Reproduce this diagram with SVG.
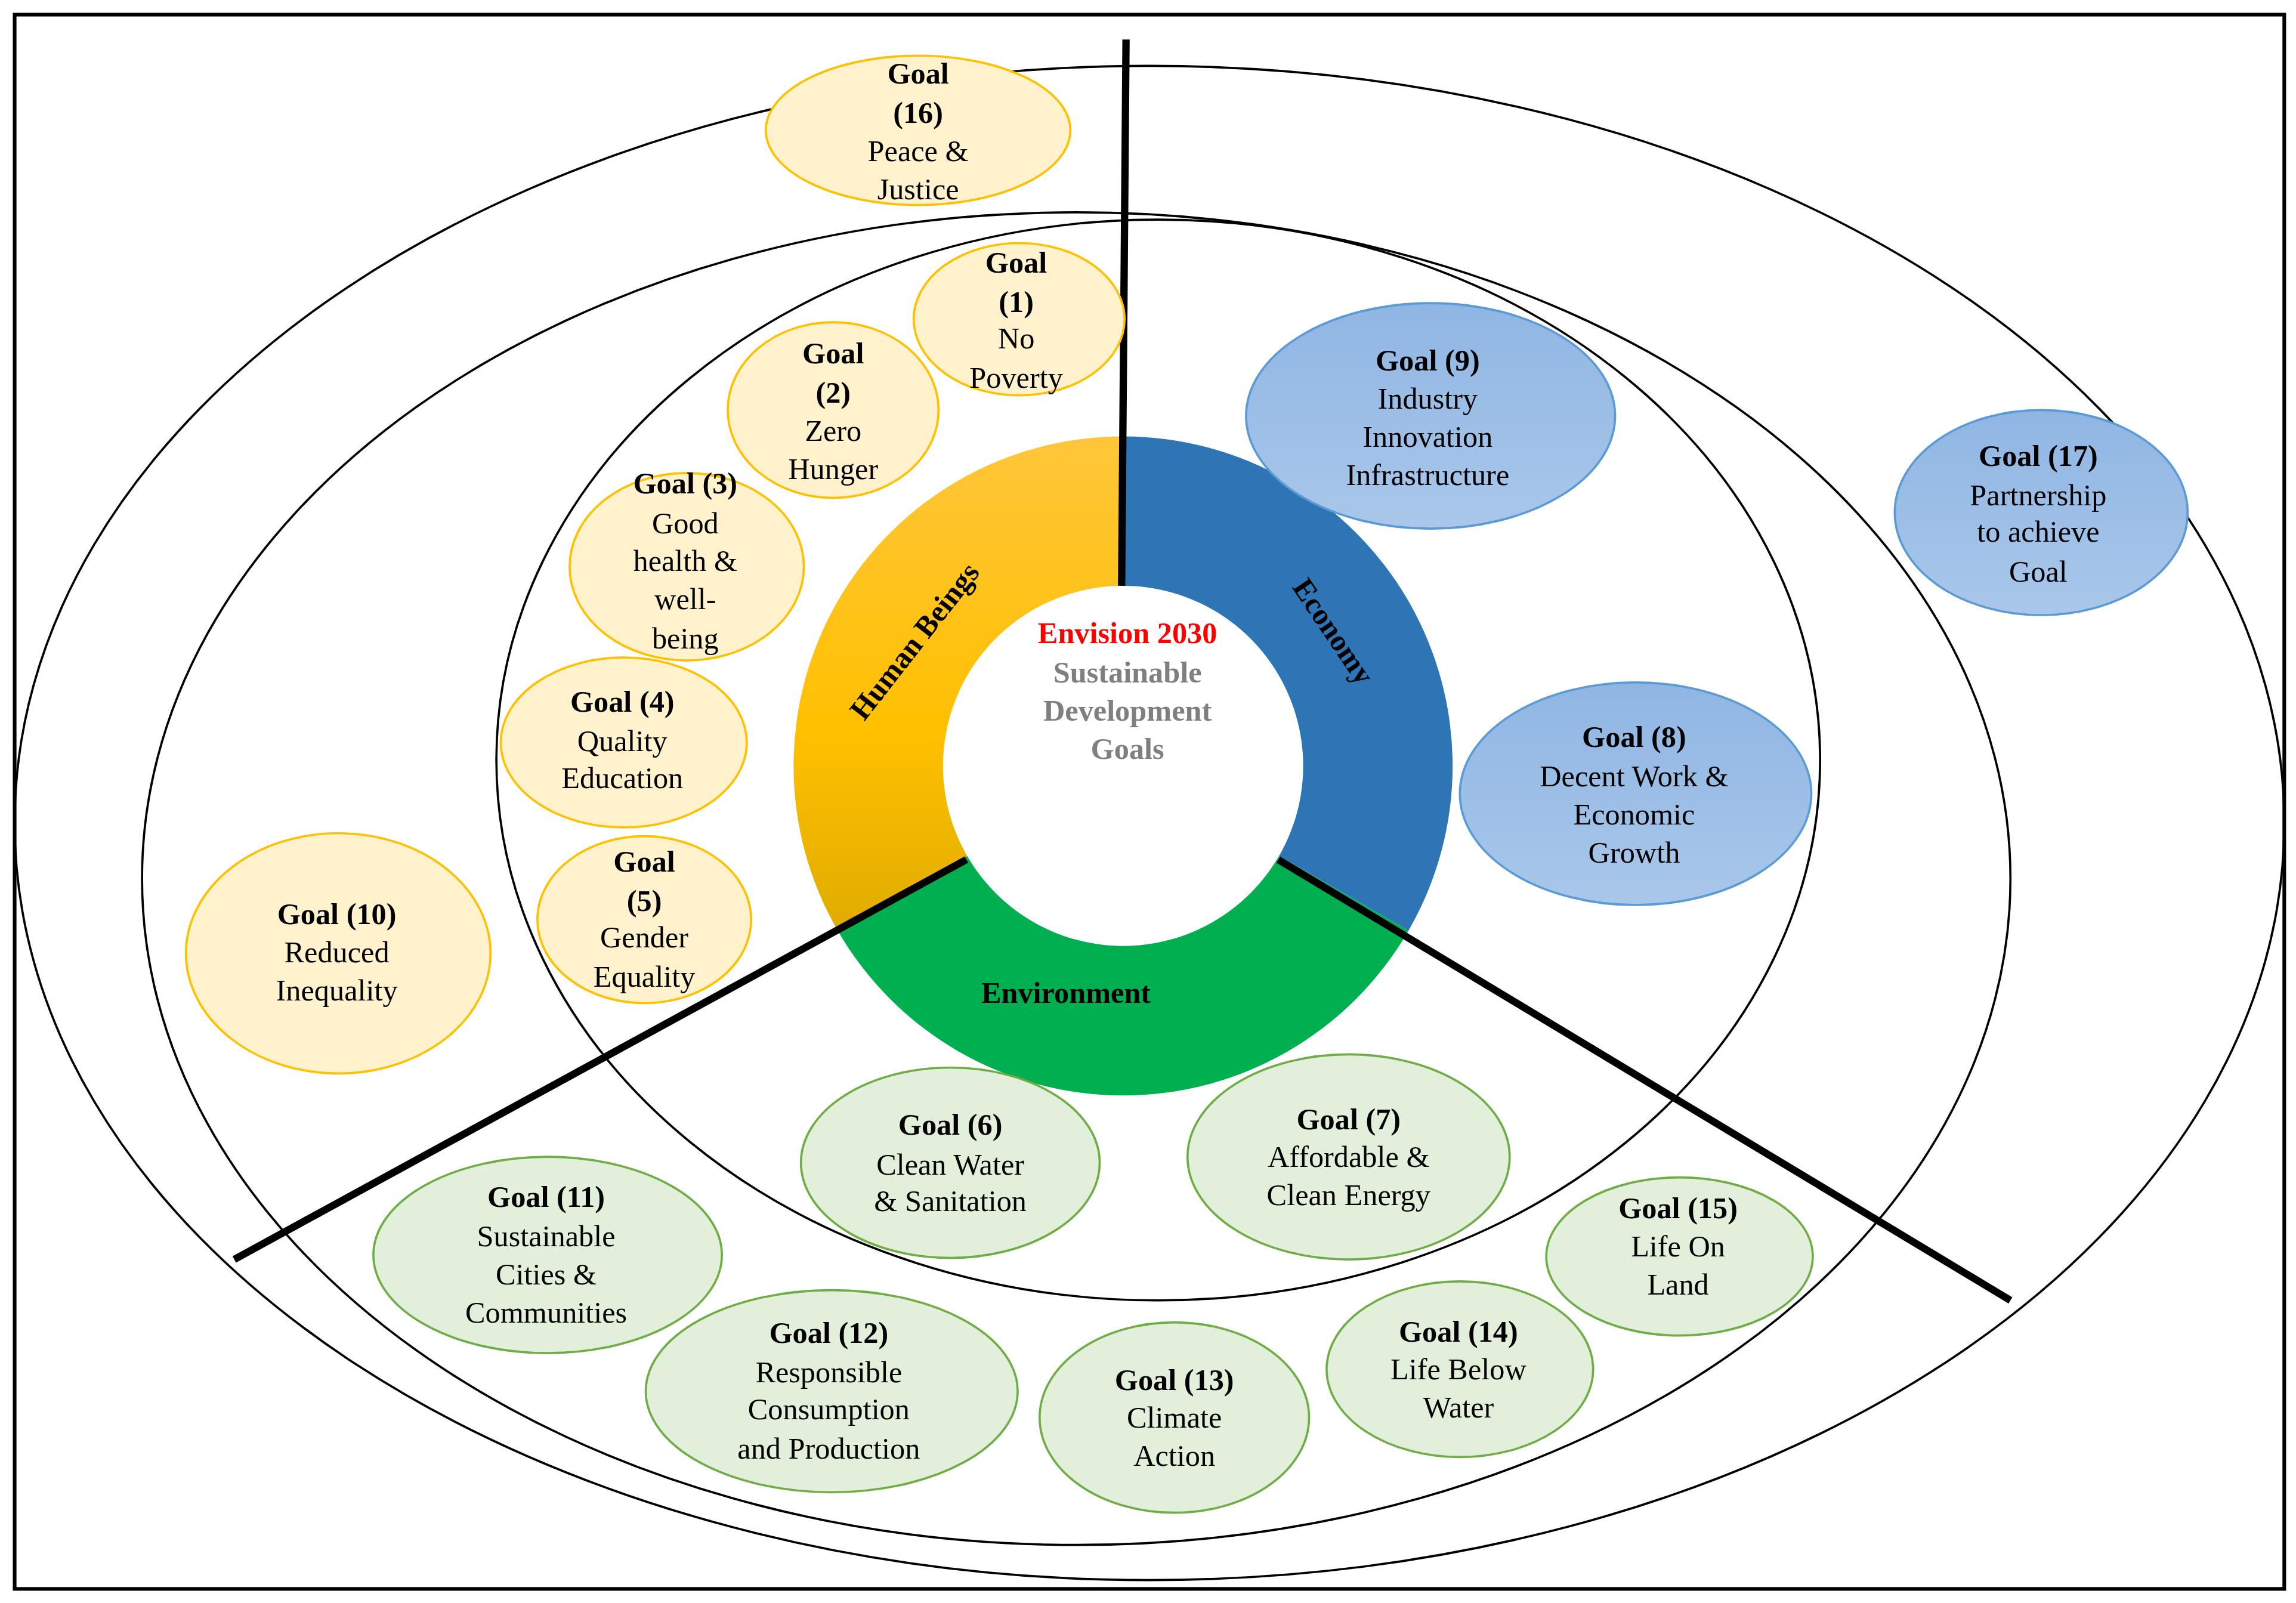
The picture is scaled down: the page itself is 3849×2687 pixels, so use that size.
<svg xmlns="http://www.w3.org/2000/svg" width="3849" height="2687" viewBox="0 0 3849 2687">
<defs>
<style>
text{font-family:'Liberation Serif',serif}
.t{font-size:20.5px;text-anchor:middle;fill:#000}
.b{font-weight:bold}
.ring{fill:none;stroke:#000;stroke-width:1.5}
.y{fill:#FFF2CC;stroke:#FFC000;stroke-width:1.5}
.bl{fill:url(#gb);stroke:#5B9BD5;stroke-width:1.5}
.g{fill:#E2EFDA;stroke:#70AD47;stroke-width:1.5}
.sep{stroke:#000;stroke-width:5;fill:none}
</style>
<linearGradient id="gb" x1="0" y1="0" x2="0" y2="1"><stop offset="0" stop-color="#8FB6E3"/><stop offset="1" stop-color="#A9C7EA"/></linearGradient>
<linearGradient id="go" x1="0" y1="0" x2="0" y2="1"><stop offset="0" stop-color="#FFC63A"/><stop offset="0.6" stop-color="#FFC000"/><stop offset="1" stop-color="#E0AC00"/></linearGradient>
</defs>
<rect width="3849" height="2687" fill="#fff"/>
<g transform="scale(2.4547)" font-family="Liberation Serif, serif">
<rect x="10" y="10" width="1550" height="1075" fill="none" stroke="#000" stroke-width="2.5"/>
<g id="rings">
<ellipse class="ring" cx="785" cy="562" rx="775" ry="517"/>
<ellipse class="ring" cx="735" cy="600" rx="638" ry="455"/>
<ellipse class="ring" cx="791" cy="519" rx="452" ry="369"/>
</g>
<g id="donut">
<path d="M767 298 A225 225 0 0 0 572.1 635.5 L660.5 584.5 A123 123 0 0 1 767 400 Z" fill="url(#go)"/>
<path d="M767 298 A225 225 0 0 1 961.9 635.5 L873.5 584.5 A123 123 0 0 0 767 400 Z" fill="#2E75B6"/>
<path d="M961.9 635.5 A225 225 0 0 1 572.1 635.5 L660.5 584.5 A123 123 0 0 0 873.5 584.5 Z" fill="#00B050"/>
<text class="t b" transform="translate(630 442) rotate(-52)">Human Beings</text>
<text class="t b" transform="translate(905 435) rotate(56)">Economy</text>
<text class="t b" x="728" y="685">Environment</text>
<text class="t b" x="770" y="439" style="fill:#FF0000">Envision 2030</text>
<text class="t b" x="770" y="466" style="fill:#7F7F7F">Sustainable</text>
<text class="t b" x="770" y="492" style="fill:#7F7F7F">Development</text>
<text class="t b" x="770" y="518" style="fill:#7F7F7F">Goals</text>
</g>
<g id="connectors">
<line class="sep" x1="769" y1="27" x2="766" y2="400"/>
<line class="sep" x1="660" y1="587" x2="160" y2="860"/>
<line class="sep" x1="873" y1="587" x2="1373" y2="888"/>
</g>
<g id="g16"><ellipse class="y" cx="627" cy="89" rx="104" ry="51"/><text class="t b" x="627" y="57">Goal</text><text class="t b" x="627" y="84">(16)</text><text class="t" x="627" y="110">Peace &amp;</text><text class="t" x="627" y="136">Justice</text></g>
<g id="g1"><ellipse class="y" cx="696" cy="218" rx="72" ry="52"/><text class="t b" x="694" y="186">Goal</text><text class="t b" x="694" y="213">(1)</text><text class="t" x="694" y="238">No</text><text class="t" x="694" y="265">Poverty</text></g>
<g id="g2"><ellipse class="y" cx="569" cy="280" rx="72" ry="60"/><text class="t b" x="569" y="248">Goal</text><text class="t b" x="569" y="275">(2)</text><text class="t" x="569" y="301">Zero</text><text class="t" x="569" y="327">Hunger</text></g>
<g id="g3"><ellipse class="y" cx="469" cy="387" rx="80" ry="64"/><text class="t b" x="468" y="337">Goal (3)</text><text class="t" x="468" y="364">Good</text><text class="t" x="468" y="390">health &amp;</text><text class="t" x="468" y="416">well-</text><text class="t" x="468" y="443">being</text></g>
<g id="g4"><ellipse class="y" cx="426" cy="507" rx="84" ry="58"/><text class="t b" x="425" y="486">Goal (4)</text><text class="t" x="425" y="513">Quality</text><text class="t" x="425" y="538">Education</text></g>
<g id="g5"><ellipse class="y" cx="440" cy="628" rx="73" ry="57"/><text class="t b" x="440" y="595">Goal</text><text class="t b" x="440" y="622">(5)</text><text class="t" x="440" y="647">Gender</text><text class="t" x="440" y="674">Equality</text></g>
<g id="g10"><ellipse class="y" cx="231" cy="651" rx="104" ry="82"/><text class="t b" x="230" y="631">Goal (10)</text><text class="t" x="230" y="657">Reduced</text><text class="t" x="230" y="683">Inequality</text></g>
<g id="g9"><ellipse class="bl" cx="977" cy="284" rx="126" ry="77"/><text class="t b" x="975" y="253">Goal (9)</text><text class="t" x="975" y="279">Industry</text><text class="t" x="975" y="305">Innovation</text><text class="t" x="975" y="331">Infrastructure</text></g>
<g id="g17"><ellipse class="bl" cx="1394" cy="350" rx="100" ry="70"/><text class="t b" x="1392" y="318">Goal (17)</text><text class="t" x="1392" y="345">Partnership</text><text class="t" x="1392" y="370">to achieve</text><text class="t" x="1392" y="397">Goal</text></g>
<g id="g8"><ellipse class="bl" cx="1117" cy="542" rx="120" ry="76"/><text class="t b" x="1116" y="510">Goal (8)</text><text class="t" x="1116" y="537">Decent Work &amp;</text><text class="t" x="1116" y="563">Economic</text><text class="t" x="1116" y="589">Growth</text></g>
<g id="g6"><ellipse class="g" cx="649" cy="794" rx="102" ry="65"/><text class="t b" x="649" y="775">Goal (6)</text><text class="t" x="649" y="802">Clean Water</text><text class="t" x="649" y="827">&amp; Sanitation</text></g>
<g id="g7"><ellipse class="g" cx="921" cy="790" rx="110" ry="70"/><text class="t b" x="921" y="771">Goal (7)</text><text class="t" x="921" y="797">Affordable &amp;</text><text class="t" x="921" y="823">Clean Energy</text></g>
<g id="g11"><ellipse class="g" cx="374" cy="857" rx="119" ry="67"/><text class="t b" x="373" y="824">Goal (11)</text><text class="t" x="373" y="851">Sustainable</text><text class="t" x="373" y="877">Cities &amp;</text><text class="t" x="373" y="903">Communities</text></g>
<g id="g12"><ellipse class="g" cx="568" cy="950" rx="127" ry="69"/><text class="t b" x="566" y="917">Goal (12)</text><text class="t" x="566" y="944">Responsible</text><text class="t" x="566" y="969">Consumption</text><text class="t" x="566" y="996">and Production</text></g>
<g id="g13"><ellipse class="g" cx="802" cy="968" rx="92" ry="65"/><text class="t b" x="802" y="949">Goal (13)</text><text class="t" x="802" y="975">Climate</text><text class="t" x="802" y="1001">Action</text></g>
<g id="g14"><ellipse class="g" cx="997" cy="935" rx="91" ry="60"/><text class="t b" x="996" y="916">Goal (14)</text><text class="t" x="996" y="942">Life Below</text><text class="t" x="996" y="968">Water</text></g>
<g id="g15"><ellipse class="g" cx="1147" cy="858" rx="91" ry="54"/><text class="t b" x="1146" y="832">Goal (15)</text><text class="t" x="1146" y="858">Life On</text><text class="t" x="1146" y="884">Land</text></g>
</g>
</svg>
